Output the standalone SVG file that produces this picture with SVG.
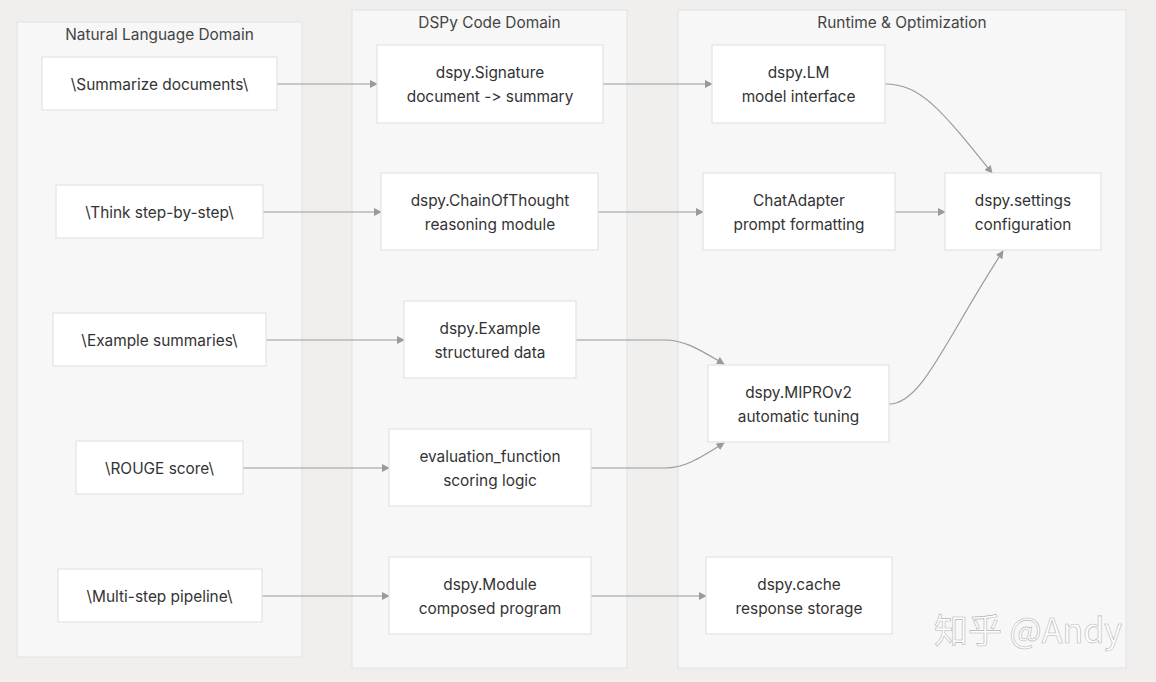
<svg xmlns="http://www.w3.org/2000/svg" width="1156" height="682" viewBox="0 0 1156 682">
<style>
.cl{fill:#f7f7f7;stroke:#e2e2e2;stroke-width:1}
.nd{fill:#ffffff;stroke:#e3e3e3;stroke-width:1.2}
.t{font-family:Inter,"Noto Sans","Liberation Sans",sans-serif;font-size:15.4px;fill:#333;text-anchor:middle;font-feature-settings:"calt" 0,"liga" 0;font-variant-ligatures:none}
.ct{font-family:Inter,"Noto Sans","Liberation Sans",sans-serif;font-size:15.4px;fill:#444;text-anchor:middle}
.e{fill:none;stroke:#9a9a9a;stroke-width:1.2;marker-end:url(#ah)}
.wm{font-family:"Noto Sans CJK SC","Noto Sans",sans-serif;font-size:34px;fill:#ffffff;stroke:#b5b5b5;stroke-width:0.6}
</style>
<defs>
<marker id="ah" viewBox="0 0 10 10" refX="9" refY="5" markerWidth="8" markerHeight="8" markerUnits="userSpaceOnUse" orient="auto">
<path d="M0,0 L10,5 L0,10 z" fill="#9a9a9a"/>
</marker>
</defs>
<rect width="1156" height="682" fill="#f0efee"/>
<g id="cluster-nl">
<rect class="cl" x="17" y="22" width="285" height="635"/>
<text class="ct" x="159.5" y="40">Natural Language Domain</text>
</g>
<g id="cluster-dspy">
<rect class="cl" x="352" y="10" width="275" height="658"/>
<text class="ct" x="489.5" y="28">DSPy Code Domain</text>
</g>
<g id="cluster-runtime">
<rect class="cl" x="678" y="10" width="448" height="658"/>
<text class="ct" x="902" y="28">Runtime &amp; Optimization</text>
</g>
<g id="connectors">
<path class="e" d="M277,84 L377,84"/>
<path class="e" d="M263,212 L381,212"/>
<path class="e" d="M266,340 L404,340"/>
<path class="e" d="M243,468 L389,468"/>
<path class="e" d="M262,596 L389,596"/>
<path class="e" d="M603,84 L712,84"/>
<path class="e" d="M598,212 L703,212"/>
<path class="e" d="M895,212 L945,212"/>
<path class="e" d="M885,84 C920,84 940,108 992,173"/>
<path class="e" d="M889,404 C922,404 945,340 1003,251"/>
<path class="e" d="M576,340 L665,340 C685,340 700,350 724,364"/>
<path class="e" d="M591,468 L665,468 C685,468 700,458 724,443"/>
<path class="e" d="M591,596 L706,596"/>
</g>
<g id="n-summarize">
<rect class="nd" x="42" y="57" width="235" height="53"/>
<text class="t" x="159.5" y="90">\Summarize documents\</text>
</g>
<g id="n-think">
<rect class="nd" x="56" y="185" width="207" height="53"/>
<text class="t" x="159.5" y="218">\Think step-by-step\</text>
</g>
<g id="n-examples">
<rect class="nd" x="53" y="313" width="213" height="53"/>
<text class="t" x="159.5" y="346">\Example summaries\</text>
</g>
<g id="n-rouge">
<rect class="nd" x="76" y="441" width="167" height="53"/>
<text class="t" x="159.5" y="474">\ROUGE score\</text>
</g>
<g id="n-multistep">
<rect class="nd" x="58" y="569" width="204" height="53"/>
<text class="t" x="159.5" y="602">\Multi-step pipeline\</text>
</g>
<g id="n-signature">
<rect class="nd" x="377" y="45" width="226" height="78"/>
<text class="t" x="490" y="78">dspy.Signature</text>
<text class="t" x="490" y="102">document -&gt; summary</text>
</g>
<g id="n-cot">
<rect class="nd" x="381" y="173" width="217" height="77"/>
<text class="t" x="490" y="206">dspy.ChainOfThought</text>
<text class="t" x="490" y="230">reasoning module</text>
</g>
<g id="n-example">
<rect class="nd" x="404" y="301" width="172" height="77"/>
<text class="t" x="490" y="334">dspy.Example</text>
<text class="t" x="490" y="358">structured data</text>
</g>
<g id="n-eval">
<rect class="nd" x="389" y="429" width="202" height="77"/>
<text class="t" x="490" y="462">evaluation_function</text>
<text class="t" x="490" y="486">scoring logic</text>
</g>
<g id="n-module">
<rect class="nd" x="389" y="557" width="202" height="77"/>
<text class="t" x="490" y="590">dspy.Module</text>
<text class="t" x="490" y="614">composed program</text>
</g>
<g id="n-lm">
<rect class="nd" x="712" y="45" width="173" height="78"/>
<text class="t" x="798.5" y="78">dspy.LM</text>
<text class="t" x="798.5" y="102">model interface</text>
</g>
<g id="n-chatadapter">
<rect class="nd" x="703" y="173" width="192" height="77"/>
<text class="t" x="799" y="206">ChatAdapter</text>
<text class="t" x="799" y="230">prompt formatting</text>
</g>
<g id="n-settings">
<rect class="nd" x="945" y="173" width="156" height="77"/>
<text class="t" x="1023" y="206">dspy.settings</text>
<text class="t" x="1023" y="230">configuration</text>
</g>
<g id="n-mipro">
<rect class="nd" x="708" y="365" width="181" height="77"/>
<text class="t" x="798.5" y="398">dspy.MIPROv2</text>
<text class="t" x="798.5" y="422">automatic tuning</text>
</g>
<g id="n-cache">
<rect class="nd" x="706" y="557" width="186" height="77"/>
<text class="t" x="799" y="590">dspy.cache</text>
<text class="t" x="799" y="614">response storage</text>
</g>
<text class="wm" x="934" y="643">知乎 @Andy</text>
</svg>
